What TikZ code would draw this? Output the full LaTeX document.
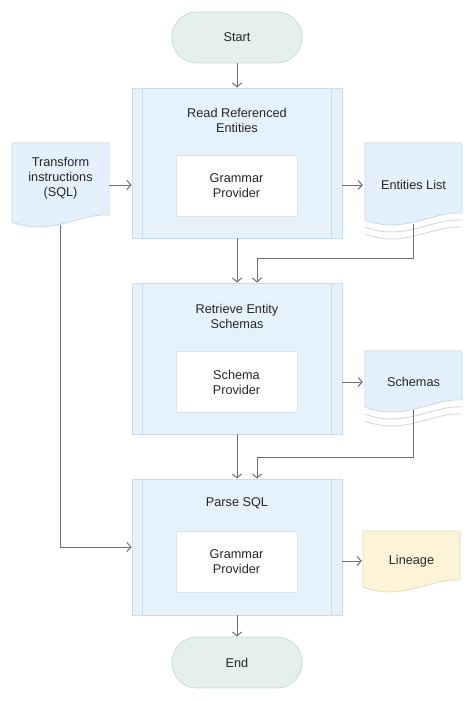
\documentclass[tikz,border=0pt]{standalone}
\usepackage{fontspec}
\setmainfont{Liberation Sans}
\usetikzlibrary{arrows.meta,calc}
\definecolor{procfill}{HTML}{E5F2FB}
\definecolor{procline}{HTML}{CADCEA}
\definecolor{innerline}{HTML}{DCE4EC}
\definecolor{termfill}{HTML}{E3F1EA}
\definecolor{termline}{HTML}{C9DED2}
\definecolor{docfill}{HTML}{E4F0FB}
\definecolor{docline}{HTML}{CADAE8}
\definecolor{waveline}{HTML}{D2DAE2}
\definecolor{linfill}{HTML}{FCF3D8}
\definecolor{linline}{HTML}{E8DDB8}
\definecolor{textcol}{HTML}{262626}
\definecolor{arrowcol}{HTML}{6E6E6E}
\newcommand\docpath[4]{(#1,#2) -- (#3,#2) -- (#3,#4-12) .. controls ({#3-0.3*(#3-#1)},#4-14) and ({#1+0.4*(#3-#1)},#4+10) .. (#1,#4-5) -- cycle}
\newcommand\wavepath[3]{(#2,#3-12) .. controls ({#2-0.3*(#2-#1)},#3-14) and ({#1+0.4*(#2-#1)},#3+10) .. (#1,#3-5)}
\begin{document}
\begin{tikzpicture}[x=1pt,y=-1pt,
  txt/.style={font=\fontsize{12.7}{15}\selectfont, text=textcol, align=center},
  proc/.style={draw=procline, fill=procfill, line width=0.8pt, minimum width=210pt, inner sep=0pt},
  innerbox/.style={txt, draw=innerline, fill=white, line width=0.8pt, minimum width=121pt, minimum height=61pt, inner sep=0pt},
  term/.style={txt, draw=termline, fill=termfill, line width=0.8pt, rounded corners=25pt, minimum width=130pt, minimum height=51pt},
  docshape/.style={draw=docline, fill=docfill, line width=0.8pt},
  linshape/.style={draw=linline, fill=linfill, line width=0.8pt},
  wavestroke/.style={draw=waveline, line width=0.9pt},
  doctext/.style={txt, inner sep=0pt},
  conn/.style={draw=arrowcol, line width=1pt, -{Straight Barb[length=4pt,width=9pt]}},
  bar/.style={draw=procline, line width=0.8pt}]
\useasboundingbox (0,0) rectangle (474,701);
\fill[white] (0,0) rectangle (474,701);

% terminals
\node[term] (start) at (237,37.5) {Start};
\node[term] (end) at (237,662.5) {End};

% process boxes
\node[proc, minimum height=150pt] (p1) at (237,163) {};
\node[proc, minimum height=151pt] (p2) at (237,358.5) {};
\node[proc, minimum height=136pt] (p3) at (237,547) {};
\foreach \p in {p1,p2,p3}{
  \draw[bar] ([xshift=11pt]\p.north west) -- ([xshift=11pt]\p.south west);
  \draw[bar] ([xshift=-11pt]\p.north east) -- ([xshift=-11pt]\p.south east);
}
\node[txt] (p1t) at (237,120.5) {Read Referenced\\Entities};
\node[txt] (p2t) at (237,316.5) {Retrieve Entity\\Schemas};
\node[txt] (p3t) at (237,503) {Parse SQL};
\node[innerbox] (g1) at (236.5,185.5) {Grammar\\Provider};
\node[innerbox] (s2) at (236.5,382) {Schema\\Provider};
\node[innerbox] (g3) at (236.5,561.5) {Grammar\\Provider};

% documents
\path[docshape] \docpath{12}{143}{109}{227};
\node[doctext, minimum width=97pt, minimum height=70pt] (tr) at (60.5,178) {Transform\\instructions\\(SQL)};

\draw[wavestroke] \wavepath{365}{462}{239};
\draw[wavestroke] \wavepath{365}{462}{232};
\path[docshape] \docpath{365}{143}{462}{225};
\node[doctext, minimum width=97pt, minimum height=84pt] (ent) at (413.5,185) {Entities List};

\draw[wavestroke] \wavepath{365}{462}{426};
\draw[wavestroke] \wavepath{365}{462}{419};
\path[docshape] \docpath{365}{351}{462}{412};
\node[doctext, minimum width=97pt, minimum height=62pt] (sch) at (413.5,382) {Schemas};

\path[linshape] \docpath{363}{531}{460}{592};
\node[doctext, minimum width=97pt, minimum height=60pt] (lin) at (411.5,561) {Lineage};

% connectors
\draw[conn] (start) -- (p1);
\draw[conn] (p1) -- (p2);
\draw[conn] (p2) -- (p3);
\draw[conn] (p3) -- (end);

\coordinate (trout) at ($(tr.east)+(0,7)$);
\draw[conn] (trout) -- (trout -| p1.west);
\coordinate (trb) at (60.5,225);
\draw[conn] (trb) |- (p3.west);

\draw[conn, shorten >=2pt] (p1.east |- ent) -- (ent.west);
\draw[conn, shorten >=2pt] (p2.east |- sch) -- (sch.west);
\draw[conn, shorten >=1pt] (p3.east |- lin) -- (lin.west);

\coordinate (entb) at (413,224);
\draw[conn] (entb) |- ($(p2.north)+(20,-24)$) -- ($(p2.north)+(20,0)$);
\coordinate (schb) at (413,410);
\draw[conn] (schb) |- ($(p3.north)+(20,-21)$) -- ($(p3.north)+(20,0)$);
\end{tikzpicture}
\end{document}
